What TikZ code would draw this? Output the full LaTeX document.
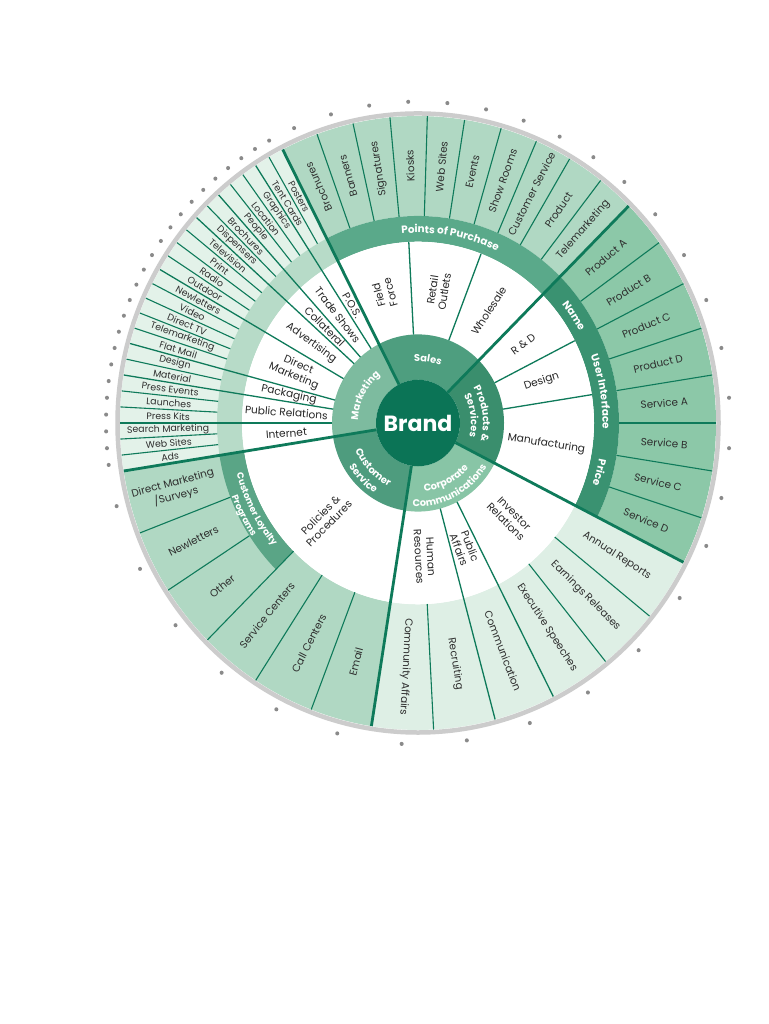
\documentclass[tikz,border=0pt]{standalone}
\usepackage{fontspec}
\setmainfont{Poppins}
\usetikzlibrary{decorations.text}
\definecolor{lineC}{HTML}{0E7A5A}
\definecolor{brandC}{HTML}{0B7456}
\definecolor{salesRing}{HTML}{4E9E7F}
\definecolor{mktRing}{HTML}{7DBB9F}
\definecolor{psRing}{HTML}{3A8E6D}
\definecolor{ccRing}{HTML}{88C5A6}
\definecolor{csRing}{HTML}{4E9C7E}
\definecolor{salesBand}{HTML}{5AA98A}
\definecolor{psBand}{HTML}{3A9271}
\definecolor{mktBand}{HTML}{B7DBC8}
\definecolor{clBand}{HTML}{5AA586}
\definecolor{salesOuter}{HTML}{B0D8C3}
\definecolor{psOuter}{HTML}{8CC8A8}
\definecolor{mktOuter}{HTML}{E3F2E9}
\definecolor{ccOuter}{HTML}{DEEFE5}
\definecolor{csOuter}{HTML}{B0D8C3}
\definecolor{txtC}{HTML}{2E2E2E}
\definecolor{dotC}{HTML}{8A8A8A}
\definecolor{rimC}{HTML}{CCCCCC}
\newcommand\annul[5]{\fill[#1] (#2:#4) arc[start angle=#2, end angle=#3, radius=#4] -- (#3:#5) arc[start angle=#3, end angle=#2, radius=#5] -- cycle;}
\newcommand\arctext[5]{\path[decorate, decoration={text along path, text align=center, text color=white, text={|#1|#2}}] (#3:#5) arc[start angle=#3, end angle=#4, radius=#5];}
\newcommand\olfont{\fontsize{10.4}{11.4}\selectfont}
\newcommand\mofont{\fontsize{9.4}{10}\selectfont}
\newcommand\wrfont{\fontsize{10.6}{12}\selectfont}
\newcommand\crfont{\bfseries\fontsize{9.8}{11}\selectfont}
\newcommand\bdfont{\bfseries\fontsize{10.4}{11}\selectfont}
\newcommand\clfont{\bfseries\fontsize{9}{9.5}\selectfont}
\begin{document}
\begin{tikzpicture}[x=1pt,y=1pt,
  olab/.style={font=\olfont, text=txtC, align=center, inner sep=0pt},
  mlab/.style={font=\mofont, text=txtC, inner sep=0pt},
  wlab/.style={font=\wrfont, text=black!85, align=center, inner sep=0pt},
  major/.style={draw=lineC, line width=2.8pt},
  grp/.style={draw=lineC, line width=1.3pt},
  cellline/.style={draw=lineC, line width=1.1pt}]
\useasboundingbox (0,0) rectangle (768,1024);
\fill[white] (0,0) rectangle (768,1024);
\begin{scope}[shift={(418,601)}, yscale=1.03]
% fills
\annul{salesOuter}{45}{117}{201}{298}
\annul{psOuter}{-27}{45}{201}{298}
\annul{mktOuter}{117}{189}{201}{298}
\annul{csOuter}{189}{261}{176}{298}
\annul{ccOuter}{-99}{-27}{176}{298}
\annul{salesBand}{45}{117}{176}{201}
\annul{psBand}{-27}{45}{176}{201}
\annul{mktBand}{117}{189}{176}{201}
\annul{clBand}{189}{225}{176}{201}
\fill[white] (0,0) circle[radius=176];
\annul{salesRing}{45}{117}{42}{86}
\annul{psRing}{-27}{45}{42}{86}
\annul{ccRing}{-99}{-27}{42}{86}
\annul{csRing}{189}{261}{42}{86}
\annul{mktRing}{117}{189}{42}{86}
\fill[brandC] (0,0) circle[radius=42];
% lines
\foreach \a in {93,69,27,9} \draw[grp] (\a:86) -- (\a:176);
\foreach \a in {123,132,138,150,165,171,-63,-75} \draw[grp] (\a:86) -- (\a:298);
\draw[lineC, line width=2pt] (180:86) -- (180:298);
\foreach \a in {109.8,102.6,95.4,88.2,81,73.8,66.6,59.4,52.2,36,27,18,9,0,-9,-18,201,213,120,126,129,135,141,144,147,153,156,159,162,168,174,177,183,186} \draw[cellline] (\a:201) -- (\a:298);
\foreach \a in {-39,-51,-87,225,237,249} \draw[cellline] (\a:176) -- (\a:298);
\foreach \a in {45,117,189,261,333} \draw[major] (\a:42) -- (\a:298);
% rim and dots
\draw[rimC, line width=4.5pt] (0,0) circle[radius=300.5];
\foreach \a in {113.4,106.2,99,91.8,84.6,77.4,70.2,63,55.8,48.6,40.5,31.5,22.5,13.5,4.5,-4.5,-13.5,-22.5,-33,-45,-57,-69,-81,-93,195,207,219,231,243,255,187.5,184.5,181.5,178.5,175.5,172.5,169.5,166.5,163.5,160.5,157.5,154.5,151.5,148.5,145.5,142.5,139.5,136.5,133.5,130.5,127.5,124.5,121.5,118.5} \fill[dotC] (\a:312) circle[radius=2];
% outer labels
\foreach \a/\t [count=\i] in {113.4/Brochures,106.2/Banners,99/Signatures,91.8/Kiosks,84.6/Web Sites,77.4/Events,70.2/Show Rooms,63/Customer Service,55.8/Product,48.6/Telemarketing}
  \node[olab, rotate=\a] (sa\i) at (\a:250) {\t};
\foreach \a/\t [count=\i] in {40.5/Product A,31.5/Product B,22.5/Product C,13.5/Product D,4.5/Service A,-4.5/Service B,-13.5/Service C,-22.5/Service D}
  \node[olab, rotate=\a] (ps\i) at (\a:247) {\t};
\foreach \a/\t [count=\i] in {-33/Annual Reports,-45/Earnings Releases,-57/Executive Speeches,-69/Communication,-81/Recruiting,-93/Community Affairs}
  \node[olab, rotate=\a] (cc\i) at (\a:237) {\t};
\foreach \a/\t [count=\i] in {195/{Direct Marketing\\/Surveys},207/Newletters,219/Other}
  \node[olab, rotate=\a-180] (cl\i) at (\a:252) {\t};
\foreach \a/\t [count=\i] in {231/Service Centers,243/Call Centers,255/Email}
  \node[olab, rotate=\a-180] (cs\i) at (\a:240) {\t};
\foreach \a/\t [count=\i] in {187.5/Ads,184.5/Web Sites,181.5/Search Marketing,178.5/Press Kits,175.5/Launches,172.5/Press Events,169.5/Material,166.5/Design,163.5/Flat Mail,160.5/Telemarketing,157.5/Direct TV,154.5/Video,151.5/Newletters,148.5/Outdoor,145.5/Radio,142.5/Print,139.5/Television,136.5/Dispensers,133.5/Brochures,130.5/People,127.5/Location,124.5/Graphics,121.5/Tent Cards,118.5/Posters}
  \node[mlab, rotate=\a-180] (mk\i) at (\a:250) {\t};
% white ring labels
\foreach \a/\t [count=\i] in {105/{Field\\Force},81/{Retail\\Outlets},57/Wholesale,36/R \& D,18/Design,-9/Manufacturing,-45/{Investor\\Relations},-69/{Public\\Affairs},-87/{Human\\Resources}}
  \node[wlab, rotate=\a] (w\i) at (\a:130) {\t};
\foreach \a/\t [count=\i] in {225/{Policies \&\\Procedures},120/P.O.S.,127.5/Trade Shows,135/Collateral,144/Advertising,157.5/{Direct\\Marketing},168/Packaging,175.5/Public Relations,184.5/Internet}
  \node[wlab, rotate=\a-180] (v\i) at (\a:132) {\t};
% ring labels
\arctext{\crfont}{Sales}{131}{31}{60}
\arctext{\crfont}{Marketing}{203}{103}{60}
\arctext{\crfont}{Products {\&}}{58}{-42}{65}
\arctext{\crfont}{Services}{58}{-42}{53}
\arctext{\crfont}{Corporate}{-113}{-13}{67}
\arctext{\crfont}{Communications}{-113}{-13}{81}
\arctext{\crfont}{Customer}{174}{274}{68}
\arctext{\crfont}{Service}{175}{275}{81}
% band labels
\arctext{\bdfont}{Points of Purchase}{130}{30}{184.5}
\arctext{\bdfont}{Name}{64}{4}{184.5}
\arctext{\bdfont}{User Interface}{39.5}{-20.5}{184.5}
\arctext{\bdfont}{Price}{15}{-45}{184.5}
\arctext{\clfont}{Customer Loyalty}{177.5}{237.5}{188}
\arctext{\clfont}{Programs}{177.5}{237.5}{199.5}
\node[font=\bfseries\fontsize{22}{25}\selectfont, text=white] (brand) at (0,0) {Brand};
\end{scope}
\end{tikzpicture}
\end{document}
